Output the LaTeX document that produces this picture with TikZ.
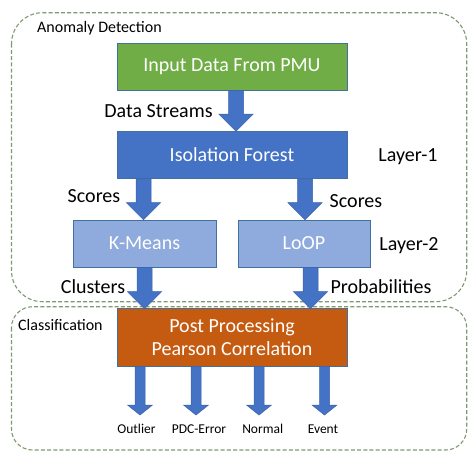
\documentclass[tikz,border=0pt]{standalone}
\usepackage{fontspec}
\setmainfont{Carlito}
\usetikzlibrary{calc}
\definecolor{pmugreen}{HTML}{70AD47}
\definecolor{ifblue}{HTML}{4472C4}
\definecolor{lightblue}{HTML}{8FAADC}
\definecolor{postorange}{HTML}{C55A11}
\definecolor{boxedge}{HTML}{41719C}
\definecolor{arredge}{HTML}{3A62AD}
\definecolor{dashcol}{HTML}{7F9A72}
\tikzset{
  dashbox/.style={draw=dashcol, line width=1.1pt, dash pattern=on 4pt off 2.2pt},
  procbox/.style={rectangle, draw=boxedge, line width=0.7pt, text=white,
    font=\fontsize{20}{23}\selectfont, align=center, inner sep=0pt},
  lbl/.style={font=\fontsize{20}{23}\selectfont, inner sep=0pt, anchor=base},
  title/.style={font=\fontsize{16}{19}\selectfont, inner sep=0pt, anchor=base west},
  outlbl/.style={font=\fontsize{13.5}{16}\selectfont, inner sep=0pt, anchor=base},
  barrow/.style n args={3}{fill=ifblue, draw=arredge, line width=0.5pt,
    to path={let \p1=(\tikztostart), \p2=(\tikztotarget) in
      (\x1-#1,\y1) -- (\x1-#1,\y2+#3) -- (\x1-#2,\y2+#3) -- (\x1,\y2)
      -- (\x1+#2,\y2+#3) -- (\x1+#1,\y2+#3) -- (\x1+#1,\y1) -- cycle}},
  bigarrow/.style={barrow={7.5pt}{17pt}{17pt}},
  smallarrow/.style={barrow={5pt}{12.5pt}{10pt}}
}
\begin{document}
\begin{tikzpicture}[x=1pt,y=-1pt]
\useasboundingbox (0,0) rectangle (474,456);
\fill[white] (0,0) rectangle (474,456);
% group frames
\draw[dashbox, rounded corners=31pt] (11.5,12.7) rectangle (466.7,301.7);
\draw[dashbox, rounded corners=21pt] (11.5,306.7) rectangle (466.7,450);
\node[title] (tad) at (37,32.5) {Anomaly Detection};
\node[title] (tcl) at (18,330) {Classification};
% boxes
\node[procbox, fill=pmugreen, minimum width=230pt, minimum height=47pt] (inp) at (232,66.5) {Input Data From PMU};
\node[procbox, fill=ifblue, minimum width=230pt, minimum height=47pt] (iso) at (232,155) {Isolation Forest};
\node[procbox, fill=lightblue, minimum width=143pt, minimum height=47pt] (km) at (144.5,243.5) {K-Means};
\node[procbox, fill=lightblue, minimum width=132pt, minimum height=47pt] (loop) at (304,243.5) {LoOP};
\node[procbox, fill=postorange, minimum width=230pt, minimum height=58pt] (post) at (232,337) {Post Processing\\Pearson Correlation};
% free ends of output arrows
\coordinate (t1) at (140,415);
\coordinate (t2) at (196,415);
\coordinate (t3) at (259,415);
\coordinate (t4) at (324.5,415);
% block arrows
\draw[bigarrow] ($(inp.south)+(4,0)$) to (iso.north);
\draw[bigarrow] ($(iso.south)+(-88.5,0)$) to (km.north);
\draw[bigarrow] ($(iso.south)+(73,0)$) to (loop.north);
\draw[bigarrow] ($(km.south)+(0,0)$) to ($(post.north)+(0,1)$);
\draw[bigarrow] ($(loop.south)+(6.5,0)$) to ($(post.north)+(0,1)$);
\draw[smallarrow] ($(post.south)+(-92,0)$) to (t1);
\draw[smallarrow] ($(post.south)+(-36,0)$) to (t2);
\draw[smallarrow] ($(post.south)+(27,0)$) to (t3);
\draw[smallarrow] ($(post.south)+(92.5,0)$) to (t4);
% labels
\node[lbl] (lds) at (158.5,117) {Data Streams};
\node[lbl] (ll1) at (408,161.5) {Layer-1};
\node[lbl] (lsc1) at (94,202) {Scores};
\node[lbl] (lsc2) at (356,207) {Scores};
\node[lbl] (ll2) at (409,250.5) {Layer-2};
\node[lbl] (lcl) at (93,293) {Clusters};
\node[lbl] (lpr) at (381,293) {Probabilities};
\node[outlbl] (o1) at (136.5,433) {Outlier};
\node[outlbl] (o2) at (199,433) {PDC-Error};
\node[outlbl] (o3) at (262.7,433) {Normal};
\node[outlbl] (o4) at (323,433) {Event};
\end{tikzpicture}
\end{document}
